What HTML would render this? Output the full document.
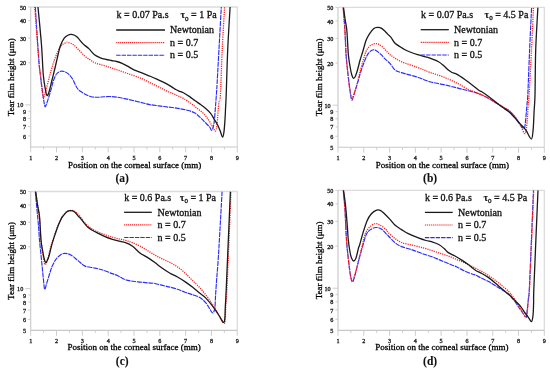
<!DOCTYPE html>
<html><head><meta charset="utf-8"><style>
html,body{margin:0;padding:0;background:#fff;}
svg{display:block;}
.tl{font-family:'Liberation Serif', 'Times New Roman', serif;font-size:6.2px;fill:#222;stroke:#222;stroke-width:0.3px;}
.lg{font-family:'Liberation Serif', 'Times New Roman', serif;font-size:10px;fill:#111;stroke:#111;stroke-width:0.3px;}
.at{font-family:'Liberation Serif', 'Times New Roman', serif;font-size:9px;fill:#000;stroke:#000;stroke-width:0.3px;}
.pl{font-family:'Liberation Serif', 'Times New Roman', serif;font-size:11.5px;font-weight:bold;fill:#111;stroke:#111;stroke-width:0.1px;}
</style></head><body>
<svg width="550" height="369" viewBox="0 0 550 369">
<rect width="550" height="369" fill="#fff"/>
<clipPath id="ca"><rect x="30.7" y="7" width="206.60000000000002" height="140"/></clipPath>
<path d="M30.7,7 H237.3 V147" fill="none" stroke="#dcdcdc" stroke-width="1.3"/>
<path d="M30.7,7 V147 H237.3" fill="none" stroke="#c8c8c8" stroke-width="1.1"/>
<line x1="30.70" y1="147" x2="30.70" y2="152.4" stroke="#c8c8c8" stroke-width="0.9"/>
<text x="30.70" y="160" class="tl" text-anchor="middle">1</text>
<line x1="43.61" y1="147" x2="43.61" y2="149.5" stroke="#c8c8c8" stroke-width="0.9"/>
<line x1="56.53" y1="147" x2="56.53" y2="152.4" stroke="#c8c8c8" stroke-width="0.9"/>
<text x="56.53" y="160" class="tl" text-anchor="middle">2</text>
<line x1="69.44" y1="147" x2="69.44" y2="149.5" stroke="#c8c8c8" stroke-width="0.9"/>
<line x1="82.35" y1="147" x2="82.35" y2="152.4" stroke="#c8c8c8" stroke-width="0.9"/>
<text x="82.35" y="160" class="tl" text-anchor="middle">3</text>
<line x1="95.26" y1="147" x2="95.26" y2="149.5" stroke="#c8c8c8" stroke-width="0.9"/>
<line x1="108.18" y1="147" x2="108.18" y2="152.4" stroke="#c8c8c8" stroke-width="0.9"/>
<text x="108.18" y="160" class="tl" text-anchor="middle">4</text>
<line x1="121.09" y1="147" x2="121.09" y2="149.5" stroke="#c8c8c8" stroke-width="0.9"/>
<line x1="134.00" y1="147" x2="134.00" y2="152.4" stroke="#c8c8c8" stroke-width="0.9"/>
<text x="134.00" y="160" class="tl" text-anchor="middle">5</text>
<line x1="146.91" y1="147" x2="146.91" y2="149.5" stroke="#c8c8c8" stroke-width="0.9"/>
<line x1="159.82" y1="147" x2="159.82" y2="152.4" stroke="#c8c8c8" stroke-width="0.9"/>
<text x="159.82" y="160" class="tl" text-anchor="middle">6</text>
<line x1="172.74" y1="147" x2="172.74" y2="149.5" stroke="#c8c8c8" stroke-width="0.9"/>
<line x1="185.65" y1="147" x2="185.65" y2="152.4" stroke="#c8c8c8" stroke-width="0.9"/>
<text x="185.65" y="160" class="tl" text-anchor="middle">7</text>
<line x1="198.56" y1="147" x2="198.56" y2="149.5" stroke="#c8c8c8" stroke-width="0.9"/>
<line x1="211.48" y1="147" x2="211.48" y2="152.4" stroke="#c8c8c8" stroke-width="0.9"/>
<text x="211.48" y="160" class="tl" text-anchor="middle">8</text>
<line x1="224.39" y1="147" x2="224.39" y2="149.5" stroke="#c8c8c8" stroke-width="0.9"/>
<line x1="237.30" y1="147" x2="237.30" y2="152.4" stroke="#c8c8c8" stroke-width="0.9"/>
<text x="237.30" y="160" class="tl" text-anchor="middle">9</text>
<line x1="28.2" y1="135.91" x2="30.7" y2="135.91" stroke="#c8c8c8" stroke-width="0.9"/>
<text x="26.10" y="138.51" class="tl" text-anchor="end">6</text>
<line x1="28.2" y1="126.54" x2="30.7" y2="126.54" stroke="#c8c8c8" stroke-width="0.9"/>
<text x="26.10" y="129.14" class="tl" text-anchor="end">7</text>
<line x1="28.2" y1="118.42" x2="30.7" y2="118.42" stroke="#c8c8c8" stroke-width="0.9"/>
<text x="26.10" y="121.02" class="tl" text-anchor="end">8</text>
<line x1="28.2" y1="111.26" x2="30.7" y2="111.26" stroke="#c8c8c8" stroke-width="0.9"/>
<text x="26.10" y="113.86" class="tl" text-anchor="end">9</text>
<line x1="25.4" y1="104.86" x2="30.7" y2="104.86" stroke="#c8c8c8" stroke-width="0.9"/>
<text x="23.30" y="107.46" class="tl" text-anchor="end">10</text>
<line x1="28.2" y1="62.71" x2="30.7" y2="62.71" stroke="#c8c8c8" stroke-width="0.9"/>
<text x="26.10" y="65.31" class="tl" text-anchor="end">20</text>
<line x1="28.2" y1="38.06" x2="30.7" y2="38.06" stroke="#c8c8c8" stroke-width="0.9"/>
<text x="26.10" y="40.66" class="tl" text-anchor="end">30</text>
<line x1="28.2" y1="20.57" x2="30.7" y2="20.57" stroke="#c8c8c8" stroke-width="0.9"/>
<text x="26.10" y="23.17" class="tl" text-anchor="end">40</text>
<line x1="28.2" y1="7.00" x2="30.7" y2="7.00" stroke="#c8c8c8" stroke-width="0.9"/>
<text x="26.10" y="9.60" class="tl" text-anchor="end">50</text>
<g clip-path="url(#ca)" fill="none">
<path d="M35.30,7.00 C35.88,15.83 37.95,48.67 38.80,60.00 C39.65,71.33 39.70,69.17 40.40,75.00 C41.10,80.83 42.25,89.78 43.00,95.00 C43.75,100.22 44.32,104.80 44.90,106.30 C45.48,107.80 45.82,105.63 46.50,104.00 C47.18,102.37 48.18,99.12 49.00,96.50 C49.82,93.88 50.68,90.88 51.40,88.30 C52.12,85.72 52.45,83.38 53.30,81.00 C54.15,78.62 55.25,75.62 56.50,74.00 C57.75,72.38 59.53,71.72 60.80,71.30 C62.07,70.88 62.83,71.07 64.10,71.50 C65.37,71.93 66.95,72.58 68.40,73.90 C69.85,75.22 71.70,77.72 72.80,79.40 C73.90,81.08 74.28,82.57 75.00,84.00 C75.72,85.43 76.20,86.78 77.10,88.00 C78.00,89.22 78.95,90.22 80.40,91.30 C81.85,92.38 84.00,93.60 85.80,94.50 C87.60,95.40 89.57,96.25 91.20,96.70 C92.83,97.15 94.13,97.12 95.60,97.20 C97.07,97.28 98.60,97.27 100.00,97.20 C101.40,97.13 102.00,96.90 104.00,96.80 C106.00,96.70 109.07,96.40 112.00,96.60 C114.93,96.80 118.10,97.35 121.60,98.00 C125.10,98.65 129.22,99.62 133.00,100.50 C136.78,101.38 141.55,102.62 144.30,103.30 C147.05,103.98 147.05,104.17 149.50,104.60 C151.95,105.03 155.83,105.48 159.00,105.90 C162.17,106.32 165.33,106.68 168.50,107.10 C171.67,107.52 174.83,107.87 178.00,108.40 C181.17,108.93 184.67,109.52 187.50,110.30 C190.33,111.08 192.80,111.83 195.00,113.10 C197.20,114.37 199.18,116.52 200.70,117.90 C202.22,119.28 202.65,119.93 204.10,121.40 C205.55,122.87 208.08,125.23 209.40,126.70 C210.72,128.17 211.22,130.93 212.00,130.20 C212.78,129.47 213.52,126.27 214.10,122.30 C214.68,118.33 215.05,111.98 215.50,106.40 C215.95,100.82 216.50,93.20 216.80,88.80 C217.10,84.40 216.55,93.63 217.30,80.00 C218.05,66.37 220.63,19.17 221.30,7.00" stroke="#2b2bff" stroke-width="1.15" stroke-dasharray="5 0.8"/>
<path d="M34.70,7.00 C35.38,15.83 37.85,48.67 38.80,60.00 C39.75,71.33 39.87,70.00 40.40,75.00 C40.93,80.00 41.48,86.18 42.00,90.00 C42.52,93.82 42.83,97.90 43.50,97.90 C44.17,97.90 44.93,93.82 46.00,90.00 C47.07,86.18 48.50,80.00 49.90,75.00 C51.30,70.00 52.65,64.72 54.40,60.00 C56.15,55.28 58.47,49.60 60.40,46.70 C62.33,43.80 64.73,43.32 66.00,42.60 C67.27,41.88 66.73,42.03 68.00,42.40 C69.27,42.77 71.72,43.45 73.60,44.80 C75.48,46.15 77.40,48.60 79.30,50.50 C81.20,52.40 83.22,54.65 85.00,56.20 C86.78,57.75 88.33,58.68 90.00,59.80 C91.67,60.92 92.37,61.85 95.00,62.90 C97.63,63.95 102.18,64.97 105.80,66.10 C109.42,67.23 113.08,68.47 116.70,69.70 C120.32,70.93 123.88,72.23 127.50,73.50 C131.12,74.77 135.42,76.17 138.40,77.30 C141.38,78.43 143.33,79.35 145.40,80.30 C147.47,81.25 148.98,82.10 150.80,83.00 C152.62,83.90 154.48,84.80 156.30,85.70 C158.12,86.60 159.90,87.50 161.70,88.40 C163.50,89.30 165.30,90.28 167.10,91.10 C168.90,91.92 170.68,92.48 172.50,93.30 C174.32,94.12 176.18,95.15 178.00,96.00 C179.82,96.85 181.22,97.15 183.40,98.40 C185.58,99.65 188.80,101.83 191.10,103.50 C193.40,105.17 195.17,106.77 197.20,108.40 C199.23,110.03 201.47,111.47 203.30,113.30 C205.13,115.13 206.78,117.37 208.20,119.40 C209.62,121.43 210.78,123.77 211.80,125.50 C212.82,127.23 213.68,128.88 214.30,129.80 C214.92,130.72 215.05,131.72 215.50,131.00 C215.95,130.28 216.60,128.45 217.00,125.50 C217.40,122.55 217.55,117.37 217.90,113.30 C218.25,109.23 218.68,104.15 219.10,101.10 C219.52,98.05 219.88,103.52 220.40,95.00 C220.92,86.48 221.50,64.67 222.20,50.00 C222.90,35.33 224.20,14.17 224.60,7.00" stroke="#ff2020" stroke-width="1.3" stroke-dasharray="1.2 1.05"/>
<path d="M38.00,7.00 C38.58,13.33 40.62,33.67 41.50,45.00 C42.38,56.33 42.63,67.50 43.30,75.00 C43.97,82.50 44.88,86.58 45.50,90.00 C46.12,93.42 46.42,95.17 47.00,95.50 C47.58,95.83 48.17,94.58 49.00,92.00 C49.83,89.42 51.00,84.00 52.00,80.00 C53.00,76.00 54.00,72.17 55.00,68.00 C56.00,63.83 57.10,58.70 58.00,55.00 C58.90,51.30 59.37,48.60 60.40,45.80 C61.43,43.00 62.93,39.97 64.20,38.20 C65.47,36.43 66.90,35.83 68.00,35.20 C69.10,34.57 69.80,34.43 70.80,34.40 C71.80,34.37 72.90,34.52 74.00,35.00 C75.10,35.48 75.88,35.82 77.40,37.30 C78.92,38.78 81.20,42.02 83.10,43.90 C85.00,45.78 86.90,46.80 88.80,48.60 C90.70,50.40 92.57,53.17 94.50,54.70 C96.43,56.23 98.52,57.02 100.40,57.80 C102.28,58.58 103.98,58.95 105.80,59.40 C107.62,59.85 109.48,60.15 111.30,60.50 C113.12,60.85 114.90,61.02 116.70,61.50 C118.50,61.98 120.30,62.63 122.10,63.40 C123.90,64.17 125.68,65.10 127.50,66.10 C129.32,67.10 131.18,68.48 133.00,69.40 C134.82,70.32 136.33,70.78 138.40,71.60 C140.47,72.42 143.33,73.48 145.40,74.30 C147.47,75.12 148.98,75.73 150.80,76.50 C152.62,77.27 154.48,78.08 156.30,78.90 C158.12,79.72 159.90,80.53 161.70,81.40 C163.50,82.27 165.30,83.10 167.10,84.10 C168.90,85.10 171.05,86.50 172.50,87.40 C173.95,88.30 174.72,88.88 175.80,89.50 C176.88,90.12 177.73,90.55 179.00,91.10 C180.27,91.65 181.57,91.83 183.40,92.80 C185.23,93.77 188.10,95.62 190.00,96.90 C191.90,98.18 192.98,99.18 194.80,100.50 C196.62,101.82 199.08,103.48 200.90,104.80 C202.72,106.12 204.08,106.98 205.70,108.40 C207.32,109.82 209.17,111.47 210.60,113.30 C212.03,115.13 213.08,117.37 214.30,119.40 C215.52,121.43 216.88,123.47 217.90,125.50 C218.92,127.53 219.62,129.67 220.40,131.60 C221.18,133.53 222.00,137.10 222.60,137.10 C223.20,137.10 223.60,134.55 224.00,131.60 C224.40,128.65 224.73,123.47 225.00,119.40 C225.27,115.33 225.40,111.27 225.60,107.20 C225.80,103.13 225.85,104.53 226.20,95.00 C226.55,85.47 227.05,64.67 227.70,50.00 C228.35,35.33 229.70,14.17 230.10,7.00" stroke="#1a1a1a" stroke-width="1.3"/>
</g>
<text x="116.5" y="18.2" class="lg">k = 0.07 Pa.s</text>
<text x="180.4" y="18.2" class="lg"><tspan font-weight="bold" stroke-width="0.1">τ</tspan><tspan font-size="7" dy="2.3">0</tspan><tspan dy="-2.3"> = 1 Pa</tspan></text>
<line x1="116.2" y1="30.00" x2="165" y2="30.00" stroke="#1a1a1a" stroke-width="1.3" />
<text x="170" y="33.20" class="lg">Newtonian</text>
<line x1="116.2" y1="42.60" x2="165" y2="42.60" stroke="#ff2020" stroke-width="1.2" stroke-dasharray="1.2 0.75"/>
<text x="170" y="45.80" class="lg">n = 0.7</text>
<line x1="116.2" y1="55.20" x2="165" y2="55.20" stroke="#2b2bff" stroke-width="1.05" stroke-dasharray="4.4 1"/>
<text x="170" y="58.40" class="lg">n = 0.5</text>
<text x="68" y="167.6" class="at">Position on the corneal surface (mm)</text>
<text transform="translate(14,77.3) rotate(-90)" class="at" text-anchor="middle">Tear film height (μm)</text>
<text x="122.2" y="182" class="pl" text-anchor="middle">(a)</text>
<clipPath id="cb"><rect x="338" y="7.4" width="206.29999999999995" height="139.9"/></clipPath>
<path d="M338,7.4 H544.3 V147.3" fill="none" stroke="#dcdcdc" stroke-width="1.3"/>
<path d="M338,7.4 V147.3 H544.3" fill="none" stroke="#c8c8c8" stroke-width="1.1"/>
<line x1="338.00" y1="147.3" x2="338.00" y2="152.70000000000002" stroke="#c8c8c8" stroke-width="0.9"/>
<text x="338.00" y="160.3" class="tl" text-anchor="middle">1</text>
<line x1="350.89" y1="147.3" x2="350.89" y2="149.8" stroke="#c8c8c8" stroke-width="0.9"/>
<line x1="363.79" y1="147.3" x2="363.79" y2="152.70000000000002" stroke="#c8c8c8" stroke-width="0.9"/>
<text x="363.79" y="160.3" class="tl" text-anchor="middle">2</text>
<line x1="376.68" y1="147.3" x2="376.68" y2="149.8" stroke="#c8c8c8" stroke-width="0.9"/>
<line x1="389.57" y1="147.3" x2="389.57" y2="152.70000000000002" stroke="#c8c8c8" stroke-width="0.9"/>
<text x="389.57" y="160.3" class="tl" text-anchor="middle">3</text>
<line x1="402.47" y1="147.3" x2="402.47" y2="149.8" stroke="#c8c8c8" stroke-width="0.9"/>
<line x1="415.36" y1="147.3" x2="415.36" y2="152.70000000000002" stroke="#c8c8c8" stroke-width="0.9"/>
<text x="415.36" y="160.3" class="tl" text-anchor="middle">4</text>
<line x1="428.26" y1="147.3" x2="428.26" y2="149.8" stroke="#c8c8c8" stroke-width="0.9"/>
<line x1="441.15" y1="147.3" x2="441.15" y2="152.70000000000002" stroke="#c8c8c8" stroke-width="0.9"/>
<text x="441.15" y="160.3" class="tl" text-anchor="middle">5</text>
<line x1="454.04" y1="147.3" x2="454.04" y2="149.8" stroke="#c8c8c8" stroke-width="0.9"/>
<line x1="466.94" y1="147.3" x2="466.94" y2="152.70000000000002" stroke="#c8c8c8" stroke-width="0.9"/>
<text x="466.94" y="160.3" class="tl" text-anchor="middle">6</text>
<line x1="479.83" y1="147.3" x2="479.83" y2="149.8" stroke="#c8c8c8" stroke-width="0.9"/>
<line x1="492.72" y1="147.3" x2="492.72" y2="152.70000000000002" stroke="#c8c8c8" stroke-width="0.9"/>
<text x="492.72" y="160.3" class="tl" text-anchor="middle">7</text>
<line x1="505.62" y1="147.3" x2="505.62" y2="149.8" stroke="#c8c8c8" stroke-width="0.9"/>
<line x1="518.51" y1="147.3" x2="518.51" y2="152.70000000000002" stroke="#c8c8c8" stroke-width="0.9"/>
<text x="518.51" y="160.3" class="tl" text-anchor="middle">8</text>
<line x1="531.41" y1="147.3" x2="531.41" y2="149.8" stroke="#c8c8c8" stroke-width="0.9"/>
<line x1="544.30" y1="147.3" x2="544.30" y2="152.70000000000002" stroke="#c8c8c8" stroke-width="0.9"/>
<text x="544.30" y="160.3" class="tl" text-anchor="middle">9</text>
<text x="333.40" y="149.90" class="tl" text-anchor="end">5</text>
<line x1="335.5" y1="136.22" x2="338" y2="136.22" stroke="#c8c8c8" stroke-width="0.9"/>
<text x="333.40" y="138.82" class="tl" text-anchor="end">6</text>
<line x1="335.5" y1="126.86" x2="338" y2="126.86" stroke="#c8c8c8" stroke-width="0.9"/>
<text x="333.40" y="129.46" class="tl" text-anchor="end">7</text>
<line x1="335.5" y1="118.74" x2="338" y2="118.74" stroke="#c8c8c8" stroke-width="0.9"/>
<text x="333.40" y="121.34" class="tl" text-anchor="end">8</text>
<line x1="335.5" y1="111.59" x2="338" y2="111.59" stroke="#c8c8c8" stroke-width="0.9"/>
<text x="333.40" y="114.19" class="tl" text-anchor="end">9</text>
<line x1="332.7" y1="105.19" x2="338" y2="105.19" stroke="#c8c8c8" stroke-width="0.9"/>
<text x="330.60" y="107.79" class="tl" text-anchor="end">10</text>
<line x1="335.5" y1="63.07" x2="338" y2="63.07" stroke="#c8c8c8" stroke-width="0.9"/>
<text x="333.40" y="65.67" class="tl" text-anchor="end">20</text>
<line x1="335.5" y1="38.44" x2="338" y2="38.44" stroke="#c8c8c8" stroke-width="0.9"/>
<text x="333.40" y="41.04" class="tl" text-anchor="end">30</text>
<line x1="335.5" y1="20.96" x2="338" y2="20.96" stroke="#c8c8c8" stroke-width="0.9"/>
<text x="333.40" y="23.56" class="tl" text-anchor="end">40</text>
<line x1="335.5" y1="7.40" x2="338" y2="7.40" stroke="#c8c8c8" stroke-width="0.9"/>
<text x="333.40" y="10.00" class="tl" text-anchor="end">50</text>
<g clip-path="url(#cb)" fill="none">
<path d="M343.30,7.40 C343.57,11.17 344.43,22.07 344.90,30.00 C345.37,37.93 345.57,47.45 346.10,55.00 C346.63,62.55 347.42,69.13 348.10,75.30 C348.78,81.47 349.57,87.88 350.20,92.00 C350.83,96.12 351.30,99.50 351.90,100.00 C352.50,100.50 352.82,97.98 353.80,95.00 C354.78,92.02 356.60,86.10 357.80,82.10 C359.00,78.10 359.80,74.68 361.00,71.00 C362.20,67.32 363.80,62.90 365.00,60.00 C366.20,57.10 367.12,55.17 368.20,53.60 C369.28,52.03 370.50,51.23 371.50,50.60 C372.50,49.97 373.22,49.65 374.20,49.80 C375.18,49.95 376.23,50.68 377.40,51.50 C378.57,52.32 379.93,53.47 381.20,54.70 C382.47,55.93 383.55,57.47 385.00,58.90 C386.45,60.33 388.27,61.48 389.90,63.30 C391.53,65.12 392.90,68.25 394.80,69.80 C396.70,71.35 397.52,71.37 401.30,72.60 C405.08,73.83 412.72,75.67 417.50,77.20 C422.28,78.73 425.65,80.57 430.00,81.80 C434.35,83.03 439.08,83.58 443.60,84.60 C448.12,85.62 453.05,86.88 457.10,87.90 C461.15,88.92 464.92,89.95 467.90,90.70 C470.88,91.45 472.68,91.68 475.00,92.40 C477.32,93.12 479.53,94.00 481.80,95.00 C484.07,96.00 486.35,97.15 488.60,98.40 C490.85,99.65 493.05,101.15 495.30,102.50 C497.55,103.85 499.83,105.15 502.10,106.50 C504.37,107.85 506.87,109.02 508.90,110.60 C510.93,112.18 512.72,114.10 514.30,116.00 C515.88,117.90 517.12,120.17 518.40,122.00 C519.68,123.83 521.00,125.97 522.00,127.00 C523.00,128.03 523.78,129.47 524.40,128.20 C525.02,126.93 525.25,123.58 525.70,119.40 C526.15,115.22 526.75,107.17 527.10,103.10 C527.45,99.03 527.38,103.85 527.80,95.00 C528.22,86.15 528.97,64.60 529.60,50.00 C530.23,35.40 531.27,14.50 531.60,7.40" stroke="#2b2bff" stroke-width="1.15" stroke-dasharray="5 0.8"/>
<path d="M343.00,7.40 C343.32,11.17 344.38,22.07 344.90,30.00 C345.42,37.93 345.57,47.45 346.10,55.00 C346.63,62.55 347.42,69.20 348.10,75.30 C348.78,81.40 349.57,87.65 350.20,91.60 C350.83,95.55 351.30,98.52 351.90,99.00 C352.50,99.48 352.85,97.32 353.80,94.50 C354.75,91.68 356.48,86.18 357.60,82.10 C358.72,78.02 359.55,73.68 360.50,70.00 C361.45,66.32 362.38,63.08 363.30,60.00 C364.22,56.92 365.00,53.73 366.00,51.50 C367.00,49.27 368.22,47.78 369.30,46.60 C370.38,45.42 371.42,44.90 372.50,44.40 C373.58,43.90 374.72,43.60 375.80,43.60 C376.88,43.60 377.73,43.72 379.00,44.40 C380.27,45.08 381.95,46.35 383.40,47.70 C384.85,49.05 386.60,51.33 387.70,52.50 C388.80,53.67 389.10,53.98 390.00,54.70 C390.90,55.42 391.22,55.63 393.10,56.80 C394.98,57.97 397.23,59.93 401.30,61.70 C405.37,63.47 412.72,65.62 417.50,67.40 C422.28,69.18 425.65,70.78 430.00,72.40 C434.35,74.02 439.08,75.30 443.60,77.10 C448.12,78.90 453.05,81.17 457.10,83.20 C461.15,85.23 464.92,87.80 467.90,89.30 C470.88,90.80 472.68,91.27 475.00,92.20 C477.32,93.13 479.53,93.88 481.80,94.90 C484.07,95.92 486.35,97.05 488.60,98.30 C490.85,99.55 493.05,101.05 495.30,102.40 C497.55,103.75 499.83,105.05 502.10,106.40 C504.37,107.75 506.87,108.92 508.90,110.50 C510.93,112.08 512.72,113.98 514.30,115.90 C515.88,117.82 517.20,120.07 518.40,122.00 C519.60,123.93 520.38,125.57 521.50,127.50 C522.62,129.43 524.17,134.50 525.10,133.60 C526.03,132.70 526.57,127.18 527.10,122.10 C527.63,117.02 527.97,107.62 528.30,103.10 C528.63,98.58 528.57,103.85 529.10,95.00 C529.63,86.15 530.77,64.60 531.50,50.00 C532.23,35.40 533.17,14.50 533.50,7.40" stroke="#ff2020" stroke-width="1.3" stroke-dasharray="1.2 1.05"/>
<path d="M343.50,7.40 C343.78,9.50 344.65,16.23 345.20,20.00 C345.75,23.77 346.27,24.17 346.80,30.00 C347.33,35.83 347.82,48.67 348.40,55.00 C348.98,61.33 349.73,64.67 350.30,68.00 C350.87,71.33 351.25,73.28 351.80,75.00 C352.35,76.72 352.98,78.13 353.60,78.30 C354.22,78.47 354.85,77.38 355.50,76.00 C356.15,74.62 356.73,72.67 357.50,70.00 C358.27,67.33 359.22,63.08 360.10,60.00 C360.98,56.92 361.82,54.73 362.80,51.50 C363.78,48.27 364.92,43.50 366.00,40.60 C367.08,37.70 368.03,36.08 369.30,34.10 C370.57,32.12 372.25,29.82 373.60,28.70 C374.95,27.58 376.13,27.50 377.40,27.40 C378.67,27.30 380.02,27.53 381.20,28.10 C382.38,28.67 383.42,29.80 384.50,30.80 C385.58,31.80 386.62,33.02 387.70,34.10 C388.78,35.18 389.82,35.82 391.00,37.30 C392.18,38.78 393.22,41.38 394.80,43.00 C396.38,44.62 398.88,45.92 400.50,47.00 C402.12,48.08 402.92,48.67 404.50,49.50 C406.08,50.33 407.83,51.13 410.00,52.00 C412.17,52.87 414.88,53.90 417.50,54.70 C420.12,55.50 423.62,56.23 425.70,56.80 C427.78,57.37 427.93,57.32 430.00,58.10 C432.07,58.88 435.83,60.25 438.10,61.50 C440.37,62.75 441.90,64.17 443.60,65.60 C445.30,67.03 446.90,68.95 448.30,70.10 C449.70,71.25 450.53,71.78 452.00,72.50 C453.47,73.22 454.90,73.18 457.10,74.40 C459.30,75.62 462.48,77.88 465.20,79.80 C467.92,81.72 471.13,84.15 473.40,85.90 C475.67,87.65 477.40,89.32 478.80,90.30 C480.20,91.28 480.17,90.77 481.80,91.80 C483.43,92.83 486.35,94.85 488.60,96.50 C490.85,98.15 493.05,99.93 495.30,101.70 C497.55,103.47 499.83,105.42 502.10,107.10 C504.37,108.78 506.87,110.10 508.90,111.80 C510.93,113.50 512.50,115.37 514.30,117.30 C516.10,119.23 518.12,121.68 519.70,123.40 C521.28,125.12 522.68,126.35 523.80,127.60 C524.92,128.85 525.13,129.00 526.40,130.90 C527.67,132.80 530.27,139.33 531.40,139.00 C532.53,138.67 532.75,133.52 533.20,128.90 C533.65,124.28 533.80,116.95 534.10,111.30 C534.40,105.65 534.73,105.22 535.00,95.00 C535.27,84.78 535.22,64.60 535.70,50.00 C536.18,35.40 537.53,14.50 537.90,7.40" stroke="#1a1a1a" stroke-width="1.3"/>
</g>
<text x="421" y="17.9" class="lg">k = 0.07 Pa.s</text>
<text x="484.6" y="17.9" class="lg"><tspan font-weight="bold" stroke-width="0.1">τ</tspan><tspan font-size="7" dy="2.3">0</tspan><tspan dy="-2.3"> = 4.5 Pa</tspan></text>
<line x1="420.7" y1="29.70" x2="448.8" y2="29.70" stroke="#1a1a1a" stroke-width="1.3" />
<text x="454" y="32.90" class="lg">Newtonian</text>
<line x1="420.7" y1="42.30" x2="448.8" y2="42.30" stroke="#ff2020" stroke-width="1.2" stroke-dasharray="1.2 0.75"/>
<text x="454" y="45.50" class="lg">n = 0.7</text>
<line x1="420.7" y1="54.90" x2="448.8" y2="54.90" stroke="#2b2bff" stroke-width="1.05" stroke-dasharray="4.4 1"/>
<text x="454" y="58.10" class="lg">n = 0.5</text>
<text x="375.7" y="167.6" class="at">Position on the corneal surface (mm)</text>
<text transform="translate(322,77.4) rotate(-90)" class="at" text-anchor="middle">Tear film height (μm)</text>
<text x="430.1" y="182" class="pl" text-anchor="middle">(b)</text>
<clipPath id="cc"><rect x="30.7" y="191.5" width="206.60000000000002" height="138.89999999999998"/></clipPath>
<path d="M30.7,191.5 H237.3 V330.4" fill="none" stroke="#dcdcdc" stroke-width="1.3"/>
<path d="M30.7,191.5 V330.4 H237.3" fill="none" stroke="#c8c8c8" stroke-width="1.1"/>
<line x1="30.70" y1="330.4" x2="30.70" y2="335.79999999999995" stroke="#c8c8c8" stroke-width="0.9"/>
<text x="30.70" y="343.4" class="tl" text-anchor="middle">1</text>
<line x1="43.61" y1="330.4" x2="43.61" y2="332.9" stroke="#c8c8c8" stroke-width="0.9"/>
<line x1="56.53" y1="330.4" x2="56.53" y2="335.79999999999995" stroke="#c8c8c8" stroke-width="0.9"/>
<text x="56.53" y="343.4" class="tl" text-anchor="middle">2</text>
<line x1="69.44" y1="330.4" x2="69.44" y2="332.9" stroke="#c8c8c8" stroke-width="0.9"/>
<line x1="82.35" y1="330.4" x2="82.35" y2="335.79999999999995" stroke="#c8c8c8" stroke-width="0.9"/>
<text x="82.35" y="343.4" class="tl" text-anchor="middle">3</text>
<line x1="95.26" y1="330.4" x2="95.26" y2="332.9" stroke="#c8c8c8" stroke-width="0.9"/>
<line x1="108.18" y1="330.4" x2="108.18" y2="335.79999999999995" stroke="#c8c8c8" stroke-width="0.9"/>
<text x="108.18" y="343.4" class="tl" text-anchor="middle">4</text>
<line x1="121.09" y1="330.4" x2="121.09" y2="332.9" stroke="#c8c8c8" stroke-width="0.9"/>
<line x1="134.00" y1="330.4" x2="134.00" y2="335.79999999999995" stroke="#c8c8c8" stroke-width="0.9"/>
<text x="134.00" y="343.4" class="tl" text-anchor="middle">5</text>
<line x1="146.91" y1="330.4" x2="146.91" y2="332.9" stroke="#c8c8c8" stroke-width="0.9"/>
<line x1="159.82" y1="330.4" x2="159.82" y2="335.79999999999995" stroke="#c8c8c8" stroke-width="0.9"/>
<text x="159.82" y="343.4" class="tl" text-anchor="middle">6</text>
<line x1="172.74" y1="330.4" x2="172.74" y2="332.9" stroke="#c8c8c8" stroke-width="0.9"/>
<line x1="185.65" y1="330.4" x2="185.65" y2="335.79999999999995" stroke="#c8c8c8" stroke-width="0.9"/>
<text x="185.65" y="343.4" class="tl" text-anchor="middle">7</text>
<line x1="198.56" y1="330.4" x2="198.56" y2="332.9" stroke="#c8c8c8" stroke-width="0.9"/>
<line x1="211.48" y1="330.4" x2="211.48" y2="335.79999999999995" stroke="#c8c8c8" stroke-width="0.9"/>
<text x="211.48" y="343.4" class="tl" text-anchor="middle">8</text>
<line x1="224.39" y1="330.4" x2="224.39" y2="332.9" stroke="#c8c8c8" stroke-width="0.9"/>
<line x1="237.30" y1="330.4" x2="237.30" y2="335.79999999999995" stroke="#c8c8c8" stroke-width="0.9"/>
<text x="237.30" y="343.4" class="tl" text-anchor="middle">9</text>
<text x="26.10" y="333.00" class="tl" text-anchor="end">5</text>
<line x1="28.2" y1="319.40" x2="30.7" y2="319.40" stroke="#c8c8c8" stroke-width="0.9"/>
<text x="26.10" y="322.00" class="tl" text-anchor="end">6</text>
<line x1="28.2" y1="310.10" x2="30.7" y2="310.10" stroke="#c8c8c8" stroke-width="0.9"/>
<text x="26.10" y="312.70" class="tl" text-anchor="end">7</text>
<line x1="28.2" y1="302.05" x2="30.7" y2="302.05" stroke="#c8c8c8" stroke-width="0.9"/>
<text x="26.10" y="304.65" class="tl" text-anchor="end">8</text>
<line x1="28.2" y1="294.94" x2="30.7" y2="294.94" stroke="#c8c8c8" stroke-width="0.9"/>
<text x="26.10" y="297.54" class="tl" text-anchor="end">9</text>
<line x1="25.4" y1="288.59" x2="30.7" y2="288.59" stroke="#c8c8c8" stroke-width="0.9"/>
<text x="23.30" y="291.19" class="tl" text-anchor="end">10</text>
<line x1="28.2" y1="246.77" x2="30.7" y2="246.77" stroke="#c8c8c8" stroke-width="0.9"/>
<text x="26.10" y="249.37" class="tl" text-anchor="end">20</text>
<line x1="28.2" y1="222.31" x2="30.7" y2="222.31" stroke="#c8c8c8" stroke-width="0.9"/>
<text x="26.10" y="224.91" class="tl" text-anchor="end">30</text>
<line x1="28.2" y1="204.96" x2="30.7" y2="204.96" stroke="#c8c8c8" stroke-width="0.9"/>
<text x="26.10" y="207.56" class="tl" text-anchor="end">40</text>
<line x1="28.2" y1="191.50" x2="30.7" y2="191.50" stroke="#c8c8c8" stroke-width="0.9"/>
<text x="26.10" y="194.10" class="tl" text-anchor="end">50</text>
<g clip-path="url(#cc)" fill="none">
<path d="M35.30,191.50 C35.83,197.25 37.80,217.92 38.50,226.00 C39.20,234.08 39.00,234.33 39.50,240.00 C40.00,245.67 40.83,253.33 41.50,260.00 C42.17,266.67 42.97,275.12 43.50,280.00 C44.03,284.88 44.20,288.63 44.70,289.30 C45.20,289.97 45.63,286.75 46.50,284.00 C47.37,281.25 48.93,275.80 49.90,272.80 C50.87,269.80 51.30,268.23 52.30,266.00 C53.30,263.77 54.55,261.25 55.90,259.40 C57.25,257.55 58.90,255.90 60.40,254.90 C61.90,253.90 63.17,253.40 64.90,253.40 C66.63,253.40 68.57,253.65 70.80,254.90 C73.03,256.15 75.93,259.03 78.30,260.90 C80.67,262.77 82.22,264.90 85.00,266.10 C87.78,267.30 92.07,267.45 95.00,268.10 C97.93,268.75 100.07,269.20 102.60,270.00 C105.13,270.80 107.67,271.95 110.20,272.90 C112.73,273.85 115.33,274.60 117.80,275.70 C120.27,276.80 122.47,278.57 125.00,279.50 C127.53,280.43 130.42,280.87 133.00,281.30 C135.58,281.73 137.98,281.83 140.50,282.10 C143.02,282.37 145.70,282.67 148.10,282.90 C150.50,283.13 152.28,283.03 154.90,283.50 C157.52,283.97 161.28,285.10 163.80,285.70 C166.32,286.30 167.72,286.50 170.00,287.10 C172.28,287.70 175.02,288.45 177.50,289.30 C179.98,290.15 182.42,291.32 184.90,292.20 C187.38,293.08 189.90,293.70 192.40,294.60 C194.90,295.50 197.67,296.23 199.90,297.60 C202.13,298.97 204.18,300.95 205.80,302.80 C207.42,304.65 208.43,307.00 209.60,308.70 C210.77,310.40 211.93,313.12 212.80,313.00 C213.67,312.88 214.33,311.00 214.80,308.00 C215.27,305.00 215.30,299.67 215.60,295.00 C215.90,290.33 216.12,286.67 216.60,280.00 C217.08,273.33 217.58,269.75 218.50,255.00 C219.42,240.25 221.50,202.08 222.10,191.50" stroke="#2b2bff" stroke-width="1.15" stroke-dasharray="5 0.8"/>
<path d="M35.50,191.50 C36.13,195.58 38.40,207.92 39.30,216.00 C40.20,224.08 40.20,233.00 40.90,240.00 C41.60,247.00 42.80,253.90 43.50,258.00 C44.20,262.10 44.43,264.27 45.10,264.60 C45.77,264.93 46.68,262.43 47.50,260.00 C48.32,257.57 49.25,252.83 50.00,250.00 C50.75,247.17 51.07,246.00 52.00,243.00 C52.93,240.00 54.52,235.08 55.60,232.00 C56.68,228.92 57.35,227.08 58.50,224.50 C59.65,221.92 61.15,218.63 62.50,216.50 C63.85,214.37 65.23,212.70 66.60,211.70 C67.97,210.70 69.35,210.57 70.70,210.50 C72.05,210.43 73.27,210.47 74.70,211.30 C76.13,212.13 77.27,213.22 79.30,215.50 C81.33,217.78 84.07,222.37 86.90,225.00 C89.73,227.63 92.03,229.27 96.30,231.30 C100.57,233.33 107.72,235.72 112.50,237.20 C117.28,238.68 121.67,239.28 125.00,240.20 C128.33,241.12 129.92,241.67 132.50,242.70 C135.08,243.73 138.02,245.10 140.50,246.40 C142.98,247.70 145.00,249.05 147.40,250.50 C149.80,251.95 152.42,253.70 154.90,255.10 C157.38,256.50 159.78,257.67 162.30,258.90 C164.82,260.13 167.47,261.17 170.00,262.50 C172.53,263.83 175.02,265.17 177.50,266.90 C179.98,268.63 182.42,270.65 184.90,272.90 C187.38,275.15 189.90,277.92 192.40,280.40 C194.90,282.88 197.42,285.07 199.90,287.80 C202.38,290.53 205.07,293.82 207.30,296.80 C209.53,299.78 211.47,302.83 213.30,305.70 C215.13,308.57 216.45,311.05 218.30,314.00 C220.15,316.95 223.15,324.90 224.40,323.40 C225.65,321.90 225.35,311.40 225.80,305.00 C226.25,298.60 226.23,303.92 227.10,285.00 C227.97,266.08 230.35,207.08 231.00,191.50" stroke="#ff2020" stroke-width="1.3" stroke-dasharray="1.2 1.05"/>
<path d="M35.70,191.50 C36.00,193.75 36.87,200.83 37.50,205.00 C38.13,209.17 38.92,210.67 39.50,216.50 C40.08,222.33 40.50,234.42 41.00,240.00 C41.50,245.58 42.00,247.00 42.50,250.00 C43.00,253.00 43.50,255.95 44.00,258.00 C44.50,260.05 45.00,261.80 45.50,262.30 C46.00,262.80 46.42,262.05 47.00,261.00 C47.58,259.95 48.22,258.67 49.00,256.00 C49.78,253.33 50.68,248.62 51.70,245.00 C52.72,241.38 53.97,237.67 55.10,234.30 C56.23,230.93 57.48,227.40 58.50,224.80 C59.52,222.20 60.53,220.05 61.20,218.70 C61.87,217.35 61.60,217.83 62.50,216.70 C63.40,215.57 65.23,212.92 66.60,211.90 C67.97,210.88 69.35,210.60 70.70,210.60 C72.05,210.60 73.35,210.88 74.70,211.90 C76.05,212.92 77.92,215.73 78.80,216.70 C79.68,217.67 78.53,216.00 80.00,217.70 C81.47,219.40 84.88,224.45 87.60,226.90 C90.32,229.35 93.58,230.87 96.30,232.40 C99.02,233.93 101.20,234.93 103.90,236.10 C106.60,237.27 109.62,238.48 112.50,239.40 C115.38,240.32 119.12,241.08 121.20,241.60 C123.28,242.12 123.12,241.73 125.00,242.50 C126.88,243.27 130.02,244.47 132.50,246.20 C134.98,247.93 137.42,251.03 139.90,252.90 C142.38,254.77 144.90,255.78 147.40,257.40 C149.90,259.02 152.42,260.78 154.90,262.60 C157.38,264.42 159.78,266.53 162.30,268.30 C164.82,270.07 167.47,271.75 170.00,273.20 C172.53,274.65 175.02,275.60 177.50,277.00 C179.98,278.40 182.42,279.92 184.90,281.60 C187.38,283.28 189.90,285.15 192.40,287.10 C194.90,289.05 197.62,291.42 199.90,293.30 C202.18,295.18 204.05,296.33 206.10,298.40 C208.15,300.47 210.17,303.05 212.20,305.70 C214.23,308.35 216.32,311.55 218.30,314.30 C220.28,317.05 222.92,323.75 224.10,322.20 C225.28,320.65 225.02,311.20 225.40,305.00 C225.78,298.80 225.57,303.92 226.40,285.00 C227.23,266.08 229.73,207.08 230.40,191.50" stroke="#1a1a1a" stroke-width="1.3"/>
</g>
<text x="124.2" y="200.5" class="lg">k = 0.6 Pa.s</text>
<text x="179.8" y="200.5" class="lg"><tspan font-weight="bold" stroke-width="0.1">τ</tspan><tspan font-size="7" dy="2.3">0</tspan><tspan dy="-2.3"> = 1 Pa</tspan></text>
<line x1="124.1" y1="212.30" x2="151.8" y2="212.30" stroke="#1a1a1a" stroke-width="1.3" />
<text x="157.5" y="215.50" class="lg">Newtonian</text>
<line x1="124.1" y1="224.90" x2="151.8" y2="224.90" stroke="#ff2020" stroke-width="1.2" stroke-dasharray="1.2 0.75"/>
<text x="157.5" y="228.10" class="lg">n = 0.7</text>
<line x1="124.1" y1="237.50" x2="151.8" y2="237.50" stroke="#2b2bff" stroke-width="1.05" stroke-dasharray="4.4 1"/>
<text x="157.5" y="240.70" class="lg">n = 0.5</text>
<text x="67.6" y="350" class="at">Position on the corneal surface (mm)</text>
<text transform="translate(14,261) rotate(-90)" class="at" text-anchor="middle">Tear film height (μm)</text>
<text x="122.2" y="364.6" class="pl" text-anchor="middle">(c)</text>
<clipPath id="cd"><rect x="338" y="190.3" width="206.29999999999995" height="140.09999999999997"/></clipPath>
<path d="M338,190.3 H544.3 V330.4" fill="none" stroke="#dcdcdc" stroke-width="1.3"/>
<path d="M338,190.3 V330.4 H544.3" fill="none" stroke="#c8c8c8" stroke-width="1.1"/>
<line x1="338.00" y1="330.4" x2="338.00" y2="335.79999999999995" stroke="#c8c8c8" stroke-width="0.9"/>
<text x="338.00" y="343.4" class="tl" text-anchor="middle">1</text>
<line x1="350.89" y1="330.4" x2="350.89" y2="332.9" stroke="#c8c8c8" stroke-width="0.9"/>
<line x1="363.79" y1="330.4" x2="363.79" y2="335.79999999999995" stroke="#c8c8c8" stroke-width="0.9"/>
<text x="363.79" y="343.4" class="tl" text-anchor="middle">2</text>
<line x1="376.68" y1="330.4" x2="376.68" y2="332.9" stroke="#c8c8c8" stroke-width="0.9"/>
<line x1="389.57" y1="330.4" x2="389.57" y2="335.79999999999995" stroke="#c8c8c8" stroke-width="0.9"/>
<text x="389.57" y="343.4" class="tl" text-anchor="middle">3</text>
<line x1="402.47" y1="330.4" x2="402.47" y2="332.9" stroke="#c8c8c8" stroke-width="0.9"/>
<line x1="415.36" y1="330.4" x2="415.36" y2="335.79999999999995" stroke="#c8c8c8" stroke-width="0.9"/>
<text x="415.36" y="343.4" class="tl" text-anchor="middle">4</text>
<line x1="428.26" y1="330.4" x2="428.26" y2="332.9" stroke="#c8c8c8" stroke-width="0.9"/>
<line x1="441.15" y1="330.4" x2="441.15" y2="335.79999999999995" stroke="#c8c8c8" stroke-width="0.9"/>
<text x="441.15" y="343.4" class="tl" text-anchor="middle">5</text>
<line x1="454.04" y1="330.4" x2="454.04" y2="332.9" stroke="#c8c8c8" stroke-width="0.9"/>
<line x1="466.94" y1="330.4" x2="466.94" y2="335.79999999999995" stroke="#c8c8c8" stroke-width="0.9"/>
<text x="466.94" y="343.4" class="tl" text-anchor="middle">6</text>
<line x1="479.83" y1="330.4" x2="479.83" y2="332.9" stroke="#c8c8c8" stroke-width="0.9"/>
<line x1="492.72" y1="330.4" x2="492.72" y2="335.79999999999995" stroke="#c8c8c8" stroke-width="0.9"/>
<text x="492.72" y="343.4" class="tl" text-anchor="middle">7</text>
<line x1="505.62" y1="330.4" x2="505.62" y2="332.9" stroke="#c8c8c8" stroke-width="0.9"/>
<line x1="518.51" y1="330.4" x2="518.51" y2="335.79999999999995" stroke="#c8c8c8" stroke-width="0.9"/>
<text x="518.51" y="343.4" class="tl" text-anchor="middle">8</text>
<line x1="531.41" y1="330.4" x2="531.41" y2="332.9" stroke="#c8c8c8" stroke-width="0.9"/>
<line x1="544.30" y1="330.4" x2="544.30" y2="335.79999999999995" stroke="#c8c8c8" stroke-width="0.9"/>
<text x="544.30" y="343.4" class="tl" text-anchor="middle">9</text>
<text x="333.40" y="333.00" class="tl" text-anchor="end">5</text>
<line x1="335.5" y1="319.31" x2="338" y2="319.31" stroke="#c8c8c8" stroke-width="0.9"/>
<text x="333.40" y="321.91" class="tl" text-anchor="end">6</text>
<line x1="335.5" y1="309.93" x2="338" y2="309.93" stroke="#c8c8c8" stroke-width="0.9"/>
<text x="333.40" y="312.53" class="tl" text-anchor="end">7</text>
<line x1="335.5" y1="301.80" x2="338" y2="301.80" stroke="#c8c8c8" stroke-width="0.9"/>
<text x="333.40" y="304.40" class="tl" text-anchor="end">8</text>
<line x1="335.5" y1="294.64" x2="338" y2="294.64" stroke="#c8c8c8" stroke-width="0.9"/>
<text x="333.40" y="297.24" class="tl" text-anchor="end">9</text>
<line x1="332.7" y1="288.23" x2="338" y2="288.23" stroke="#c8c8c8" stroke-width="0.9"/>
<text x="330.60" y="290.83" class="tl" text-anchor="end">10</text>
<line x1="335.5" y1="246.05" x2="338" y2="246.05" stroke="#c8c8c8" stroke-width="0.9"/>
<text x="333.40" y="248.65" class="tl" text-anchor="end">20</text>
<line x1="335.5" y1="221.38" x2="338" y2="221.38" stroke="#c8c8c8" stroke-width="0.9"/>
<text x="333.40" y="223.98" class="tl" text-anchor="end">30</text>
<line x1="335.5" y1="203.88" x2="338" y2="203.88" stroke="#c8c8c8" stroke-width="0.9"/>
<text x="333.40" y="206.48" class="tl" text-anchor="end">40</text>
<line x1="335.5" y1="190.30" x2="338" y2="190.30" stroke="#c8c8c8" stroke-width="0.9"/>
<text x="333.40" y="192.90" class="tl" text-anchor="end">50</text>
<g clip-path="url(#cd)" fill="none">
<path d="M343.30,190.30 C343.58,193.58 344.47,201.72 345.00,210.00 C345.53,218.28 345.92,231.62 346.50,240.00 C347.08,248.38 347.83,254.30 348.50,260.30 C349.17,266.30 349.87,272.42 350.50,276.00 C351.13,279.58 351.63,281.63 352.30,281.80 C352.97,281.97 353.43,280.58 354.50,277.00 C355.57,273.42 357.28,265.63 358.70,260.30 C360.12,254.97 361.72,249.33 363.00,245.00 C364.28,240.67 365.15,236.87 366.40,234.30 C367.65,231.73 368.92,230.73 370.50,229.60 C372.08,228.47 374.10,227.62 375.90,227.50 C377.70,227.38 379.50,227.77 381.30,228.90 C383.10,230.03 385.58,233.20 386.70,234.30 C387.82,235.40 386.65,234.13 388.00,235.50 C389.35,236.87 392.53,240.65 394.80,242.50 C397.07,244.35 398.67,245.37 401.60,246.60 C404.53,247.83 408.80,248.67 412.40,249.90 C416.00,251.13 419.93,252.87 423.20,254.00 C426.47,255.13 429.18,255.68 432.00,256.70 C434.82,257.72 437.38,258.97 440.10,260.10 C442.82,261.23 445.58,262.38 448.30,263.50 C451.02,264.62 453.70,265.57 456.40,266.80 C459.10,268.03 461.78,269.65 464.50,270.90 C467.22,272.15 470.95,273.63 472.70,274.30 C474.45,274.97 473.48,274.23 475.00,274.90 C476.52,275.57 479.53,277.18 481.80,278.30 C484.07,279.42 486.35,280.37 488.60,281.60 C490.85,282.83 493.05,284.33 495.30,285.70 C497.55,287.07 499.83,288.33 502.10,289.80 C504.37,291.27 506.87,292.70 508.90,294.50 C510.93,296.30 512.72,298.57 514.30,300.60 C515.88,302.63 517.17,304.88 518.40,306.70 C519.63,308.52 520.43,309.78 521.70,311.50 C522.97,313.22 525.07,317.35 526.00,317.00 C526.93,316.65 526.88,312.70 527.30,309.40 C527.72,306.10 528.13,301.27 528.50,297.20 C528.87,293.13 528.67,302.82 529.50,285.00 C530.33,267.18 532.83,206.08 533.50,190.30" stroke="#2b2bff" stroke-width="1.15" stroke-dasharray="5 0.8"/>
<path d="M343.30,190.30 C343.58,193.58 344.47,201.72 345.00,210.00 C345.53,218.28 345.92,231.62 346.50,240.00 C347.08,248.38 347.83,254.47 348.50,260.30 C349.17,266.13 349.87,271.63 350.50,275.00 C351.13,278.37 351.63,280.33 352.30,280.50 C352.97,280.67 353.43,279.37 354.50,276.00 C355.57,272.63 357.38,265.47 358.70,260.30 C360.02,255.13 361.33,249.33 362.40,245.00 C363.47,240.67 363.98,237.22 365.10,234.30 C366.22,231.38 367.42,229.27 369.10,227.50 C370.78,225.73 373.27,224.03 375.20,223.70 C377.13,223.37 378.88,224.52 380.70,225.50 C382.52,226.48 384.88,228.47 386.10,229.60 C387.32,230.73 386.55,230.83 388.00,232.30 C389.45,233.77 392.53,236.70 394.80,238.40 C397.07,240.10 398.67,241.37 401.60,242.50 C404.53,243.63 408.80,244.30 412.40,245.20 C416.00,246.10 419.93,247.00 423.20,247.90 C426.47,248.80 429.18,249.70 432.00,250.60 C434.82,251.50 437.38,252.40 440.10,253.30 C442.82,254.20 445.58,254.98 448.30,256.00 C451.02,257.02 453.70,258.27 456.40,259.40 C459.10,260.53 461.78,261.57 464.50,262.80 C467.22,264.03 469.82,265.35 472.70,266.80 C475.58,268.25 479.15,270.03 481.80,271.50 C484.45,272.97 486.35,274.13 488.60,275.60 C490.85,277.07 493.05,278.62 495.30,280.30 C497.55,281.98 499.83,283.78 502.10,285.70 C504.37,287.62 507.10,289.98 508.90,291.80 C510.70,293.62 511.32,294.33 512.90,296.60 C514.48,298.87 516.82,302.92 518.40,305.40 C519.98,307.88 521.08,309.48 522.40,311.50 C523.72,313.52 525.45,317.85 526.30,317.50 C527.15,317.15 527.10,312.78 527.50,309.40 C527.90,306.02 528.33,301.27 528.70,297.20 C529.07,293.13 528.87,302.82 529.70,285.00 C530.53,267.18 533.03,206.08 533.70,190.30" stroke="#ff2020" stroke-width="1.3" stroke-dasharray="1.2 1.05"/>
<path d="M343.50,190.30 C343.83,192.75 344.87,199.05 345.50,205.00 C346.13,210.95 346.83,220.17 347.30,226.00 C347.77,231.83 347.85,235.67 348.30,240.00 C348.75,244.33 349.47,249.00 350.00,252.00 C350.53,255.00 350.88,256.50 351.50,258.00 C352.12,259.50 352.95,261.00 353.70,261.00 C354.45,261.00 355.20,260.17 356.00,258.00 C356.80,255.83 357.90,250.17 358.50,248.00 C359.10,245.83 358.85,247.52 359.60,245.00 C360.35,242.48 361.75,236.95 363.00,232.90 C364.25,228.85 365.73,223.85 367.10,220.70 C368.47,217.55 369.62,215.75 371.20,214.00 C372.78,212.25 375.02,210.77 376.60,210.20 C378.18,209.63 379.35,209.97 380.70,210.60 C382.05,211.23 383.15,212.53 384.70,214.00 C386.25,215.47 388.20,217.47 390.00,219.40 C391.80,221.33 393.57,223.90 395.50,225.60 C397.43,227.30 399.47,228.25 401.60,229.60 C403.73,230.95 405.60,232.35 408.30,233.70 C411.00,235.05 414.87,236.57 417.80,237.70 C420.73,238.83 423.53,239.82 425.90,240.50 C428.27,241.18 429.85,241.13 432.00,241.80 C434.15,242.47 436.77,243.37 438.80,244.50 C440.83,245.63 442.62,247.25 444.20,248.60 C445.78,249.95 446.50,251.37 448.30,252.60 C450.10,253.83 452.75,254.75 455.00,256.00 C457.25,257.25 459.53,258.63 461.80,260.10 C464.07,261.57 466.33,263.12 468.60,264.80 C470.87,266.48 473.20,268.75 475.40,270.20 C477.60,271.65 479.60,272.27 481.80,273.50 C484.00,274.73 486.35,276.02 488.60,277.60 C490.85,279.18 493.05,281.08 495.30,283.00 C497.55,284.92 499.83,287.18 502.10,289.10 C504.37,291.02 506.87,292.70 508.90,294.50 C510.93,296.30 512.42,298.00 514.30,299.90 C516.18,301.80 518.40,303.72 520.20,305.90 C522.00,308.08 523.68,311.00 525.10,313.00 C526.52,315.00 527.63,316.47 528.70,317.90 C529.77,319.33 530.78,322.00 531.50,321.60 C532.22,321.20 532.65,318.55 533.00,315.50 C533.35,312.45 533.43,308.38 533.60,303.30 C533.77,298.22 533.27,303.83 534.00,285.00 C534.73,266.17 537.33,206.08 538.00,190.30" stroke="#1a1a1a" stroke-width="1.3"/>
</g>
<text x="424.9" y="200.6" class="lg">k = 0.6 Pa.s</text>
<text x="483.4" y="200.6" class="lg"><tspan font-weight="bold" stroke-width="0.1">τ</tspan><tspan font-size="7" dy="2.3">0</tspan><tspan dy="-2.3"> = 4.5 Pa</tspan></text>
<line x1="424.9" y1="212.40" x2="452.7" y2="212.40" stroke="#1a1a1a" stroke-width="1.3" />
<text x="458" y="215.60" class="lg">Newtonian</text>
<line x1="424.9" y1="225.00" x2="452.7" y2="225.00" stroke="#ff2020" stroke-width="1.2" stroke-dasharray="1.2 0.75"/>
<text x="458" y="228.20" class="lg">n = 0.7</text>
<line x1="424.9" y1="237.60" x2="452.7" y2="237.60" stroke="#2b2bff" stroke-width="1.05" stroke-dasharray="4.4 1"/>
<text x="458" y="240.80" class="lg">n = 0.5</text>
<text x="375.3" y="350" class="at">Position on the corneal surface (mm)</text>
<text transform="translate(322,260.4) rotate(-90)" class="at" text-anchor="middle">Tear film height (μm)</text>
<text x="430.1" y="364.6" class="pl" text-anchor="middle">(d)</text>
</svg>
</body></html>
